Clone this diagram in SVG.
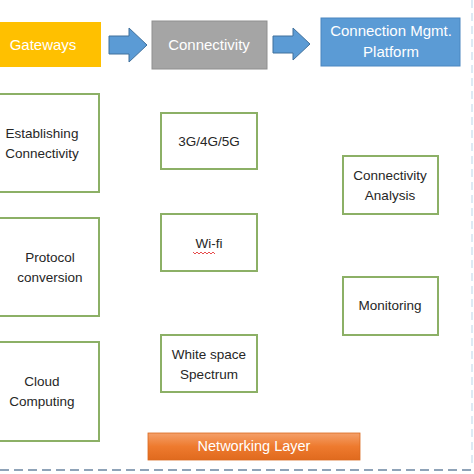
<svg xmlns="http://www.w3.org/2000/svg" width="474" height="474" viewBox="0 0 474 474">
<defs>
<linearGradient id="og" x1="0" y1="0" x2="0" y2="1">
<stop offset="0" stop-color="#F4A06A"/>
<stop offset="0.5" stop-color="#EE7A2E"/>
<stop offset="1" stop-color="#E06A1E"/>
</linearGradient>
<style>
.box{fill:#ffffff;stroke:#8CB066;stroke-width:2}
.t{font-family:"Liberation Sans",Arial,sans-serif;font-size:13.5px;fill:#262626;text-anchor:middle}
.w{font-family:"Liberation Sans",Arial,sans-serif;font-size:15px;fill:#ffffff;text-anchor:middle}
.arr{fill:#5B9BD5;stroke:#41719C;stroke-width:1}
</style>
</defs>
<rect width="474" height="474" fill="#ffffff"/>
<line x1="472" y1="0" x2="472" y2="468" stroke="#DCEAF4" stroke-width="2" stroke-dasharray="8 5"/>
<g id="gateways">
<rect x="0" y="22" width="101" height="45" fill="#FFC000"/>
<text class="w" x="43" y="50">Gateways</text>
</g>
<g id="connectivity">
<rect x="152" y="21" width="115" height="48" fill="#A5A5A5" stroke="#8F8F8F" stroke-width="1"/>
<text class="w" x="209" y="50">Connectivity</text>
</g>
<g id="cmp">
<rect x="321" y="18" width="139" height="48" fill="#5B9BD5" stroke="#4A86C0" stroke-width="1"/>
<text class="w" x="391" y="36">Connection Mgmt.</text>
<text class="w" x="391" y="57">Platform</text>
</g>
<g id="connectors">
<path class="arr" d="M109,36 H129 V28 L147,45 L129,62 V54 H109 Z"/>
<path class="arr" d="M273,36 H293 V28 L310,44 L293,60 V53 H273 Z"/>
</g>
<g id="establishing">
<rect class="box" x="-2" y="94" width="101" height="98"/>
<text class="t" x="42" y="138">Establishing</text>
<text class="t" x="42" y="158">Connectivity</text>
</g>
<g id="protocol">
<rect class="box" x="-2" y="218" width="101" height="98"/>
<text class="t" x="50" y="262">Protocol</text>
<text class="t" x="50" y="282">conversion</text>
</g>
<g id="cloud">
<rect class="box" x="-2" y="342" width="101" height="99"/>
<text class="t" x="42" y="386">Cloud</text>
<text class="t" x="42" y="406">Computing</text>
</g>
<g id="g345">
<rect class="box" x="161" y="113" width="96" height="56"/>
<text class="t" x="209" y="146">3G/4G/5G</text>
</g>
<g id="wifi">
<rect class="box" x="161" y="214" width="96" height="57"/>
<text class="t" x="209" y="248">Wi-fi</text>
<path d="M193,252 l2,2 l2,-2 l2,2 l2,-2 l2,2 l2,-2 l2,2 l2,-2 l2,2 l2,-2 l2,2" fill="none" stroke="#E02020" stroke-width="0.8"/>
</g>
<g id="whitespace">
<rect class="box" x="161" y="335" width="96" height="57"/>
<text class="t" x="209" y="359">White space</text>
<text class="t" x="209" y="379">Spectrum</text>
</g>
<g id="analysis">
<rect class="box" x="343" y="156" width="95" height="58"/>
<text class="t" x="390" y="180">Connectivity</text>
<text class="t" x="390" y="200">Analysis</text>
</g>
<g id="monitoring">
<rect class="box" x="343" y="277" width="95" height="58"/>
<text class="t" x="390" y="310">Monitoring</text>
</g>
<g id="networking">
<rect x="148" y="433" width="212" height="27" fill="url(#og)" stroke="#D9691F" stroke-width="0.8"/>
<text class="w" x="254" y="451" style="font-size:14.5px">Networking Layer</text>
</g>
<line x1="0" y1="470" x2="474" y2="470" stroke="#8FA3B8" stroke-width="2" stroke-dasharray="9 5"/>
</svg>
